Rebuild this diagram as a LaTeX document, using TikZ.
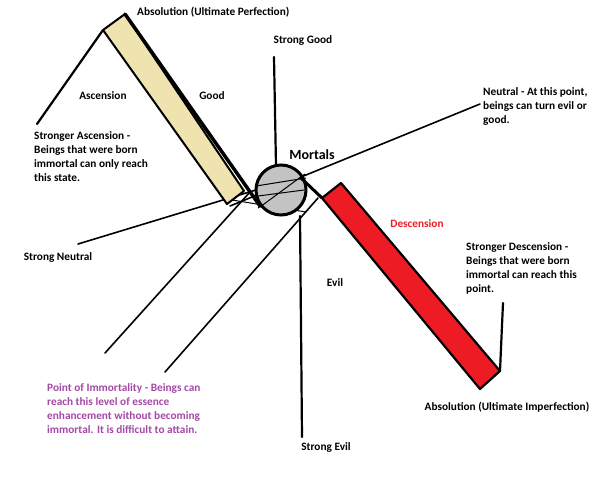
\documentclass[tikz,border=0pt]{standalone}
\usepackage{fontspec}
\setmainfont{Carlito}
\definecolor{beige}{HTML}{EFE4B0}
\definecolor{redf}{HTML}{ED1C24}
\definecolor{greyf}{HTML}{C3C3C3}
\definecolor{purp}{HTML}{A349A4}
\begin{document}
\begin{tikzpicture}[x=1pt,y=-1pt,
  lbl/.style={font=\bfseries\fontsize{11.3}{14}\selectfont,inner sep=0pt},
  para/.style={lbl,align=left,anchor=north west},
  ln/.style={line width=2.2pt,line cap=round}]
\useasboundingbox (0,0) rectangle (600,488);
% connectors
\coordinate (sg1) at (274,57); \coordinate (sg2) at (276,166);
\draw[ln] (sg1) -- (sg2);
\coordinate (sn) at (78,244); \coordinate (sn2) at (302,176);
\draw[ln,line width=1.6pt] (sn) -- (sn2);
\coordinate (nt) at (480,104); \coordinate (nt2) at (230,206);
\draw[ln,line width=1.6pt] (nt) -- (nt2);
\coordinate (pi1) at (105,353); \coordinate (pi2) at (250,192);
\draw[ln,line width=1.6pt] (pi1) -- (pi2);
\coordinate (pi3) at (165,372); \coordinate (pi4) at (318,198);
\draw[ln,line width=1.6pt] (pi3) -- (pi4);
\coordinate (se1) at (302,437); \coordinate (se2) at (300,216);
\draw[ln] (se1) -- (se2);
\draw[line width=1pt] (232,200) -- (306,212);
\draw[line width=1pt] (258,208) -- (305,174);
% beige bar
\coordinate (b1) at (103,30); \coordinate (b2) at (125,14);
\coordinate (b3) at (244,191); \coordinate (b4) at (227,204);
\draw[fill=beige,line width=2pt,line join=round] (b1) -- (b2) -- (b3) -- (b4) -- cycle;
\draw[line width=3.5pt,line cap=round] (b2) -- (260,206);
\coordinate (as) at (37,124);
\draw[ln] (b1) -- (as);
% circle
\node[circle,draw,fill=greyf,line width=3pt,minimum size=50pt,inner sep=0pt] (m) at (281,190) {};
\draw[line width=1pt] (256,186) -- (306,178);
\draw[line width=1pt] (260,207) -- (302,176);
\draw[line width=1pt] (258,196) -- (304,190);
% red bar
\coordinate (r1) at (322,198); \coordinate (r2) at (341,183);
\coordinate (r3) at (500,371); \coordinate (r4) at (480,389);
\draw[line width=3pt] (300,177) -- (r1);
\draw[fill=redf,line width=2.2pt,line join=round] (r1) -- (r2) -- (r3) -- (r4) -- cycle;
\coordinate (sd) at (503,303);
\draw[ln] (r3) -- (sd);
% labels
\node[lbl,anchor=west] (t1) at (137,12) {Absolution (Ultimate Perfection)};
\node[lbl] (t2) at (303,40) {Strong Good};
\node[lbl] (t3) at (103,96) {Ascension};
\node[lbl] (t4) at (212,96) {Good};
\node[para] (t5) at (34,131) {Stronger Ascension -\\Beings that were born\\immortal can only reach\\this state.};
\node[lbl,font=\bfseries\fontsize{14}{15}\selectfont] (t6) at (312,155) {Mortals};
\node[para] (t7) at (483,87) {Neutral - At this point,\\beings can turn evil or\\good.};
\node[lbl,text=redf] (t8) at (417,224) {Descension};
\node[para] (t9) at (466,242) {Stronger Descension -\\Beings that were born\\immortal can reach this\\point.};
\node[lbl] (t10) at (335,283) {Evil};
\node[lbl] (t11) at (58,257) {Strong Neutral};
\node[para,text=purp] (t12) at (47,383) {Point of Immortality - Beings can\\reach this level of essence\\enhancement without becoming\\immortal. It is difficult to attain.};
\node[lbl] (t13) at (507,407) {Absolution (Ultimate Imperfection)};
\node[lbl] (t14) at (326,447) {Strong Evil};
\end{tikzpicture}
\end{document}
